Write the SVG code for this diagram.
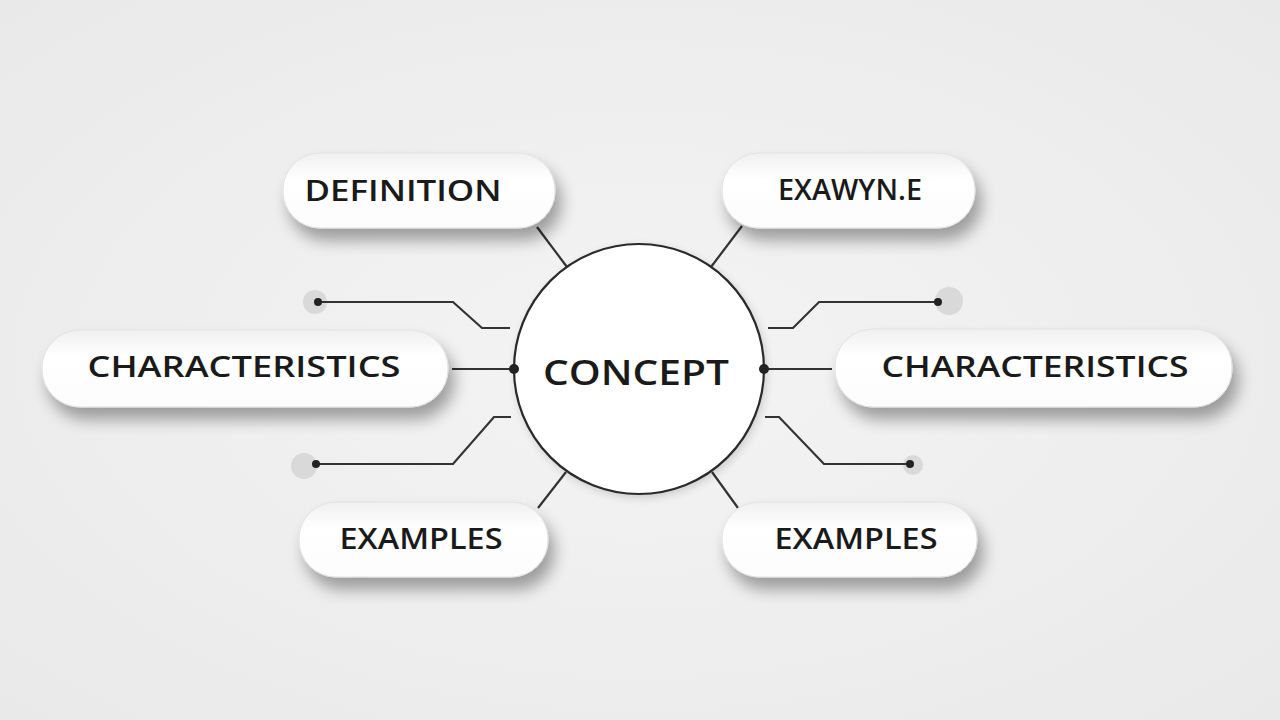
<svg xmlns="http://www.w3.org/2000/svg" width="1280" height="720" viewBox="0 0 1280 720">
  <defs>
    <radialGradient id="bg" cx="50%" cy="50%" r="70%">
      <stop offset="0" stop-color="#f4f4f4"/>
      <stop offset="1" stop-color="#e9e9e9"/>
    </radialGradient>
    <linearGradient id="pillFill" x1="0" y1="0" x2="0" y2="1">
      <stop offset="0" stop-color="#f0f0f0"/>
      <stop offset="0.35" stop-color="#ffffff"/>
      <stop offset="1" stop-color="#fcfcfc"/>
    </linearGradient>
    <filter id="shadow" x="-20%" y="-40%" width="140%" height="220%">
      <feGaussianBlur in="SourceAlpha" stdDeviation="8"/>
      <feOffset dx="6" dy="12" result="b"/>
      <feComponentTransfer><feFuncA type="linear" slope="0.35"/></feComponentTransfer>
      <feMerge><feMergeNode/><feMergeNode in="SourceGraphic"/></feMerge>
    </filter>
    <filter id="cshadow" x="-20%" y="-20%" width="140%" height="140%">
      <feGaussianBlur in="SourceAlpha" stdDeviation="4"/>
      <feOffset dx="2" dy="3"/>
      <feComponentTransfer><feFuncA type="linear" slope="0.15"/></feComponentTransfer>
      <feMerge><feMergeNode/><feMergeNode in="SourceGraphic"/></feMerge>
    </filter>
  </defs>
  <style>
    .pill { fill: url(#pillFill); stroke: #e2e2e2; stroke-width: 1; filter: url(#shadow); }
    .lbl { font-family: "Open Sans", "Liberation Sans", sans-serif; font-weight: 600; font-size: 28px; fill: #1a1a1a; text-anchor: middle; }
    .big { font-size: 34px; }
    .conn { fill: none; stroke: #333333; stroke-width: 2.2; stroke-linejoin: miter; }
    .dot { fill: #222222; }
    .halo { fill: #d9d9d9; }
  </style>
  <rect width="1280" height="720" fill="url(#bg)"/>

  <g id="connectors">
    <line class="conn" x1="537" y1="227" x2="567" y2="267"/>
    <line class="conn" x1="742" y1="226" x2="711" y2="267"/>
    <line class="conn" x1="566" y1="472" x2="538" y2="508"/>
    <line class="conn" x1="712" y1="472" x2="738" y2="508"/>
    <line class="conn" x1="452" y1="369" x2="514" y2="369"/>
    <line class="conn" x1="764" y1="369" x2="832" y2="369"/>
    <circle class="halo" cx="315" cy="302" r="12"/>
    <polyline class="conn" points="318,302 453,302 482,328 510,328"/>
    <circle class="dot" cx="318" cy="302" r="4"/>
    <circle class="halo" cx="304" cy="466" r="13"/>
    <polyline class="conn" points="316,464 453,464 494,417 511,417"/>
    <circle class="dot" cx="316" cy="464" r="4"/>
    <circle class="halo" cx="949" cy="301" r="14"/>
    <polyline class="conn" points="768,328 793,328 819,302 938,302"/>
    <circle class="dot" cx="938" cy="302" r="4"/>
    <circle class="halo" cx="913" cy="465" r="10"/>
    <polyline class="conn" points="765,417 779,417 824,464 910,464"/>
    <circle class="dot" cx="910" cy="464" r="4"/>
  </g>

  <g id="concept">
    <circle cx="639" cy="369" r="125" fill="#ffffff" stroke="#2a2a2a" stroke-width="2.2" filter="url(#cshadow)"/>
    <circle class="dot" cx="514" cy="369" r="5"/>
    <circle class="dot" cx="764" cy="369" r="5"/>
    <text class="lbl big" x="636" y="385" textLength="186" lengthAdjust="spacingAndGlyphs">CONCEPT</text>
  </g>

  <g id="definition">
    <rect class="pill" x="283" y="153" width="272" height="75" rx="37"/>
    <text class="lbl" x="403" y="201" textLength="197" lengthAdjust="spacingAndGlyphs">DEFINITION</text>
  </g>

  <g id="example-top">
    <rect class="pill" x="722" y="153" width="253" height="75" rx="37"/>
    <text class="lbl" x="850" y="200" textLength="144" lengthAdjust="spacingAndGlyphs">EXAWYN.E</text>
  </g>

  <g id="characteristics-left">
    <rect class="pill" x="42" y="330" width="406" height="77" rx="38"/>
    <text class="lbl" x="244" y="377" textLength="313" lengthAdjust="spacingAndGlyphs">CHARACTERISTICS</text>
  </g>

  <g id="characteristics-right">
    <rect class="pill" x="835" y="329" width="397" height="78" rx="38"/>
    <text class="lbl" x="1035" y="377" textLength="307" lengthAdjust="spacingAndGlyphs">CHARACTERISTICS</text>
  </g>

  <g id="examples-left">
    <rect class="pill" x="299" y="502" width="249" height="75" rx="37"/>
    <text class="lbl" x="421" y="549" textLength="163" lengthAdjust="spacingAndGlyphs">EXAMPLES</text>
  </g>

  <g id="examples-right">
    <rect class="pill" x="722" y="502" width="255" height="75" rx="37"/>
    <text class="lbl" x="856" y="549" textLength="163" lengthAdjust="spacingAndGlyphs">EXAMPLES</text>
  </g>
</svg>
